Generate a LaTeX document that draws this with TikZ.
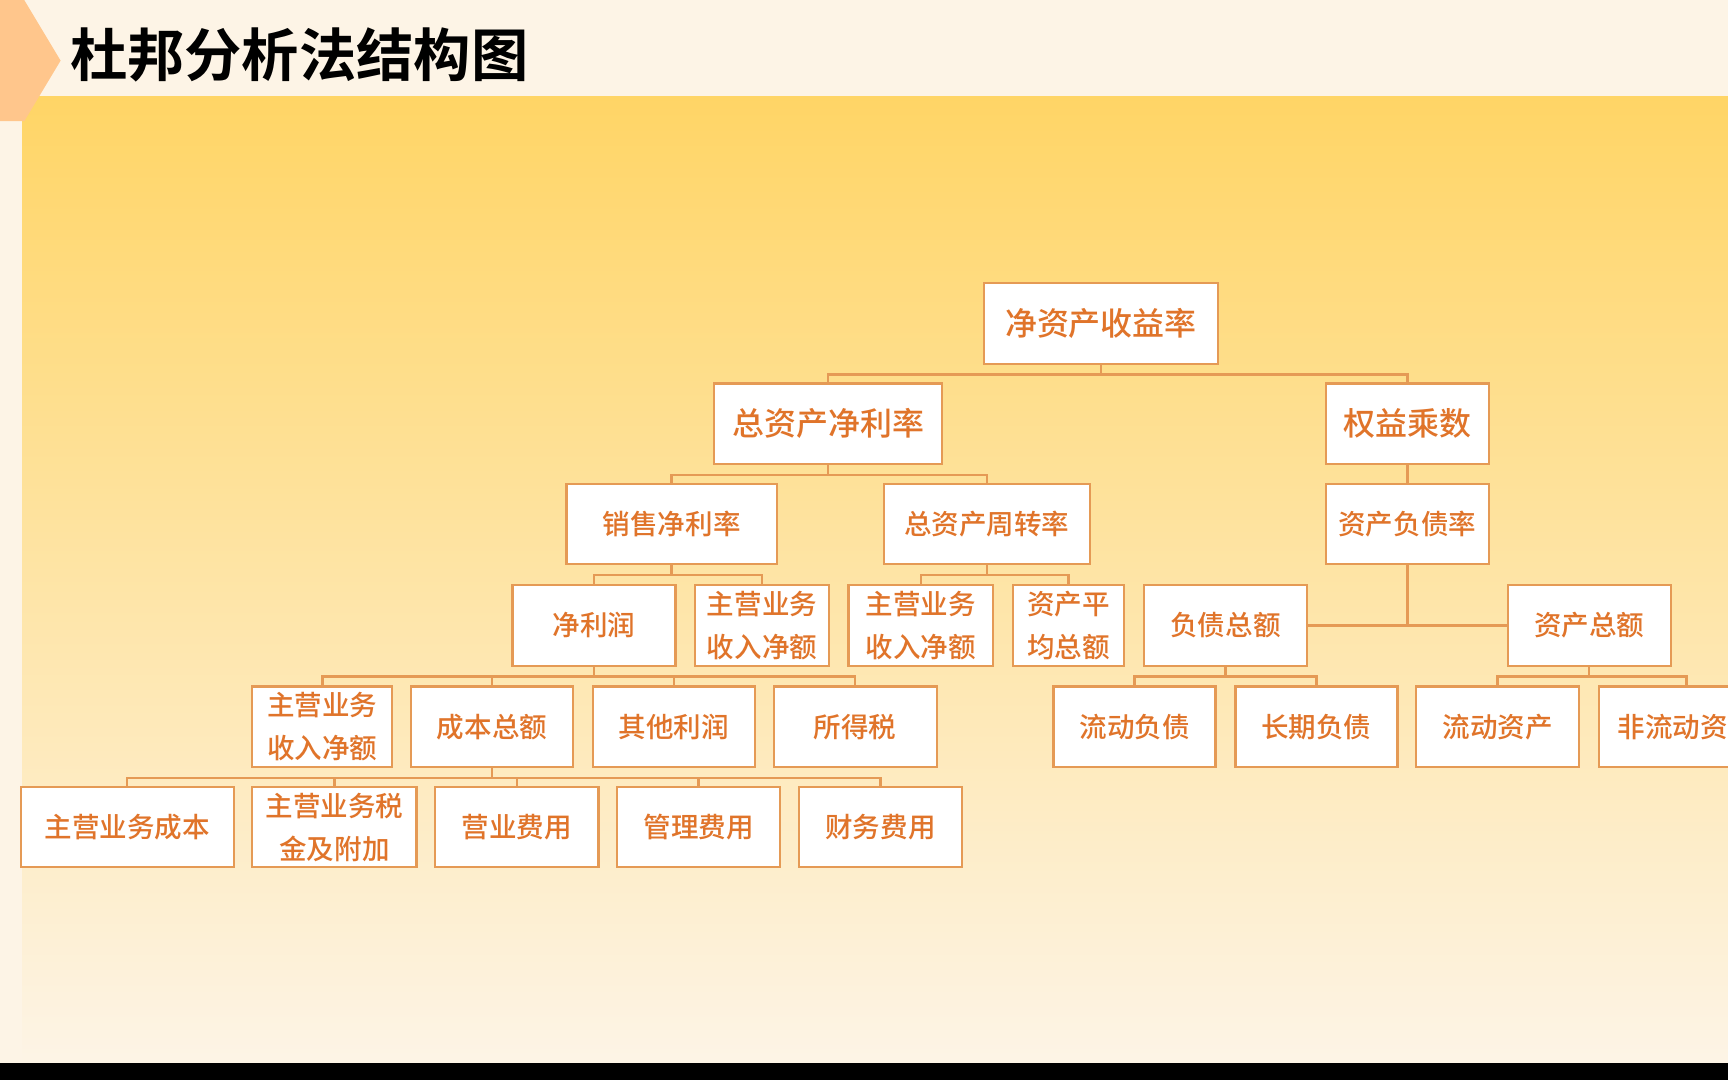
\documentclass[tikz,border=0pt]{standalone}
\usepackage{fontspec}
\setmainfont{Noto Sans CJK SC}
\newfontfamily\cjkb{Noto Sans CJK SC Bold}
\newfontfamily\cjkm{Noto Sans CJK SC Medium}
\definecolor{ln}{HTML}{E59A55}
\definecolor{tx}{HTML}{E0742A}
\definecolor{bgt}{HTML}{FDF4E6}
\tikzset{bx/.style={draw=ln,line width=2pt,fill=white,text=tx,font=\cjkm\fontsize{25}{39}\selectfont,align=center,inner sep=0pt},
 big/.style={font=\cjkm\fontsize{29}{34}\selectfont},
 cn/.style={draw=ln,line width=2.2pt}}
\newcommand{\bxn}[7][]{\node[bx,#1,minimum width={#5-#3},minimum height={#6-#4}] (#2) at ({(#3+#5)/2},{(#4+#6)/2}) {#7};}
\begin{document}
\begin{tikzpicture}[x=1pt,y=-1pt]
\useasboundingbox (0,0) rectangle (1568,980);
\fill[bgt] (0,0) rectangle (1568,980);
\shade[top color=yellow!45!orange!60!white,bottom color=bgt] (20,88) rectangle (1568,965);
\fill[orange!45!white] (0,0) -- (22,0) -- (55,55) -- (22,110) -- (0,110) -- cycle;
\fill[black] (0,965) rectangle (1568,980);
\node[anchor=west,font=\cjkb\fontsize{52}{58}\selectfont] (title) at (60,50) {杜邦分析法结构图};
\bxn[big]{roe}{893}{257}{1105}{330}{净资产收益率}
\bxn[big]{zzjl}{648}{348}{855}{421}{总资产净利率}
\bxn[big]{qycs}{1203}{348}{1351}{421}{权益乘数}
\bxn{xsjl}{514}{439}{705}{512}{销售净利率}
\bxn{zzzz}{802}{439}{989}{512}{总资产周转率}
\bxn{zcfz}{1203}{439}{1351}{512}{资产负债率}
\bxn{jlr}{465}{531}{613}{604}{净利润}
\bxn{srA}{631}{531}{752}{604}{主营业务\\收入净额}
\bxn{srB}{770}{531}{901}{604}{主营业务\\收入净额}
\bxn{zcpj}{919}{531}{1020}{604}{资产平\\均总额}
\bxn{fzze}{1038}{531}{1186}{604}{负债总额}
\bxn{zcze}{1368}{531}{1516}{604}{资产总额}
\bxn{srC}{229}{623}{356}{696}{主营业务\\收入净额}
\bxn{cbze}{373}{623}{520}{696}{成本总额}
\bxn{qtlr}{538}{623}{685}{696}{其他利润}
\bxn{sds}{702}{623}{850}{696}{所得税}
\bxn{ldfz}{956}{623}{1103}{696}{流动负债}
\bxn{cqfz}{1121}{623}{1268}{696}{长期负债}
\bxn{ldzc}{1285}{623}{1433}{696}{流动资产}
\begin{scope}
\clip (0,0) rectangle (1568,980);
\bxn{fldzc}{1451}{623}{1610}{696}{非流动资产}
\end{scope}
\bxn{zycb}{19}{714}{212}{787}{主营业务成本}
\bxn{sjfj}{229}{714}{378}{787}{主营业务税\\金及附加}
\bxn{yyfy}{395}{714}{543}{787}{营业费用}
\bxn{glfy}{560}{714}{708}{787}{管理费用}
\bxn{cwfy}{725}{714}{873}{787}{财务费用}
\draw[cn] (roe.south) -- ++(0,9) -| (zzjl.north);
\draw[cn] (roe.south) ++(0,9) -| (qycs.north);
\draw[cn] (zzjl.south) -- ++(0,9) -| (xsjl.north);
\draw[cn] (zzjl.south) ++(0,9) -| (zzzz.north);
\draw[cn] (qycs.south) -- (zcfz.north);
\draw[cn] (xsjl.south) -- ++(0,9) -| (jlr.north);
\draw[cn] (xsjl.south) ++(0,9) -| (srA.north);
\draw[cn] (zzzz.south) -- ++(0,9) -| (srB.north);
\draw[cn] (zzzz.south) ++(0,9) -| (zcpj.north);
\draw[cn] (zcfz.south) |- (fzze.east);
\draw[cn] (zcfz.south) |- (zcze.west);
\foreach \c in {srC,cbze,qtlr,sds} \draw[cn] (jlr.south) -- ++(0,9) -| (\c.north);
\foreach \c in {ldfz,cqfz} \draw[cn] (fzze.south) -- ++(0,9) -| (\c.north);
\foreach \c in {ldzc,fldzc} \draw[cn] (zcze.south) -- ++(0,9) -| (\c.north);
\foreach \c in {zycb,sjfj,yyfy,glfy,cwfy} \draw[cn] (cbze.south) -- ++(0,9) -| (\c.north);
\end{tikzpicture}
\end{document}
